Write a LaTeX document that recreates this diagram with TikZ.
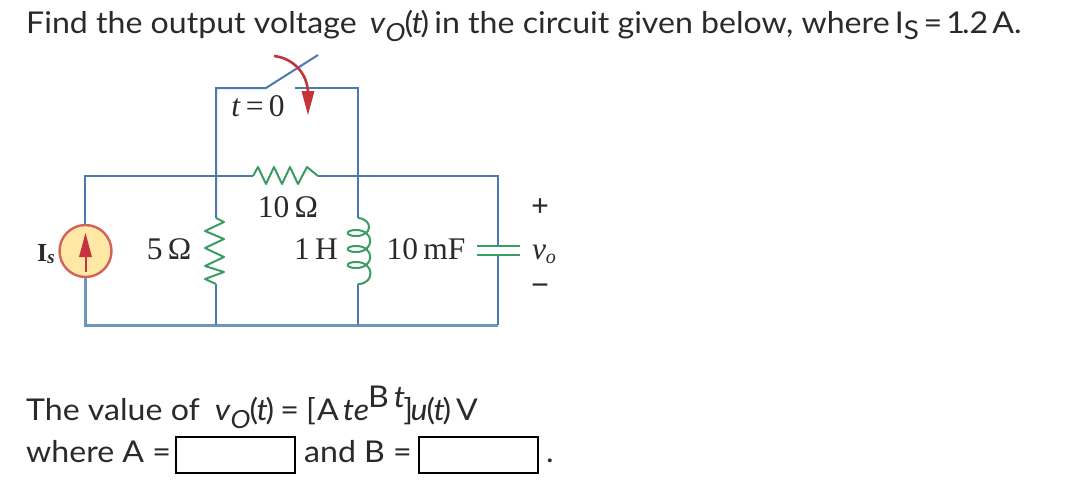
\documentclass[tikz,border=0pt]{standalone}
\usepackage{fontspec}
\setmainfont[FakeStretch=1.07]{Lato}
\newfontfamily\serifx{Liberation Serif}
\usetikzlibrary{arrows.meta}
\definecolor{wirec}{HTML}{4A7BAE}
\definecolor{compc}{HTML}{3A9C62}
\definecolor{redc}{HTML}{C5333C}
\definecolor{srcfill}{HTML}{FFE8A6}
\definecolor{srcline}{HTML}{D2625A}
\definecolor{inkc}{HTML}{2A2A2A}
\newcommand{\subO}{\raisebox{-0.28em}{\fontsize{25}{30}\selectfont\textit{O}}}
\newcommand{\argt}{\kern-1pt(\kern-1.5pt\textit{t}\kern-2.5pt)}
\tikzset{
  wire/.style={draw=wirec,line width=2pt},
  thickwire/.style={draw=wirec!80,line width=3pt},
  comp/.style={draw=compc,line width=2pt,line join=round},
  prose/.style={anchor=base west,inner sep=0pt,text=inkc,font=\fontsize{30}{34}\selectfont},
  lab/.style={anchor=base,inner sep=0pt,text=inkc,font=\serifx\fontsize{31.5}{34}\selectfont},
  answer/.style={draw=black,line width=2pt,fill=white,minimum width=119pt,minimum height=36pt,inner sep=0pt},
  redarrow/.style={fill=redc,draw=none}
}
\begin{document}
\begin{tikzpicture}[x=1pt,y=-1pt]
\useasboundingbox (0,0) rectangle (1066,496);
% corners and junctions
\coordinate (tl) at (85,176);
\coordinate (bl) at (85,325);
\coordinate (jA) at (216,176);
\coordinate (jB) at (358,176);
\coordinate (tr) at (498,176);
\coordinate (br) at (498,325);
\coordinate (jC) at (216,325);
\coordinate (jD) at (358,325);
\coordinate (swL) at (216,88);
\coordinate (swR) at (358,88);
\coordinate (hinge) at (266,88);
\coordinate (bladeEnd) at (318,55);
\coordinate (contact) at (295,88);
\coordinate (rvT) at (216,218);
\coordinate (rvB) at (216,284);
\coordinate (rhL) at (253,176);
\coordinate (rhR) at (318,176);
\coordinate (lT) at (358,218);
\coordinate (lB) at (358,284);
\coordinate (cT) at (498,246);
\coordinate (cB) at (498,255);
% wiring
\draw[thickwire] (jC) -- (bl) -- (tl |- 0,277);
\draw[thickwire] (jC) -- (jD) -- (br);
\draw[wire] (tl |- 0,225) -- (tl) -- (rhL);
\draw[wire] (rhR) -- (tr) -- (cT);
\draw[wire] (cB) -- (br);
\draw[wire] (rvT) -- (swL) -- (hinge) -- (bladeEnd);
\draw[wire] (contact) -- (swR) -- (lT);
\draw[wire] (rvB) -- (jC);
\draw[wire] (lB) -- (jD);
% 5 ohm
\draw[comp] (rvT) -- (224,222) -- (205,231) -- (224,239) -- (205,248) -- (224,257) -- (205,266) -- (224,272) -- (205,279) -- (rvB);
% 10 ohm
\draw[comp] (rhL) -- (258,167) -- (266,184) -- (274,167) -- (282,184) -- (290,167) -- (298,184) -- (307,167) -- (rhR);
% 1 H
\draw[comp] (lT) .. controls (373,219) and (373,236) .. (356,236)
  .. controls (345,236) and (345,230) .. (356,230)
  .. controls (375,230) and (375,252) .. (356,252)
  .. controls (345,252) and (345,246) .. (356,246)
  .. controls (375,246) and (375,268) .. (356,268)
  .. controls (345,268) and (345,262) .. (356,262)
  .. controls (375,262) and (375,284) .. (lB);
% capacitor
\draw[comp] (477,246) -- (520,246);
\draw[comp] (477,255) -- (520,255);
% source
\node[circle,draw=srcline,line width=2.4pt,fill=srcfill,minimum size=52pt,inner sep=0pt] (src) at (85.5,251) {};
\draw[draw=redc,line width=2pt] (85.5,272) -- (85.5,250);
\fill[redarrow] (85.5,233) -- (92,257) -- (79,257) -- cycle;
% switch arrow
\draw[draw=redc,line width=2.6pt] (274,56) .. controls (292,58) and (307,72) .. (308,92);
\fill[redarrow] (308,115) -- (314.5,91) -- (301.5,91) -- cycle;
% component labels
\node[lab] (ltime) at (258,116) {\textit{t}\,=\,0};
\node[lab] (lten) at (288,217) {10\,Ω};
\node[lab] (lfive) at (169,259) {5\,Ω};
\node[lab] (lH) at (316,259) {1\,H};
\node[lab] (lmF) at (426,259) {10\,mF};
\node[lab,anchor=base west] (lIs) at (37,261) {\fontsize{26}{28}\selectfont\textbf{I}\raisebox{-0.1em}{\fontsize{19}{20}\selectfont\textbf{\textit{s}}}};
\node[lab] (lplus) at (540,216) {\textbf{+}};
\node[lab] (lvo) at (544,259) {\textit{v\raisebox{-0.15em}{\fontsize{20}{20}\selectfont o}}};
\node[lab] (lminus) at (540,295) {\textbf{−}};
% prose
\node[prose] (title) at (26,33) {Find the output voltage\kern5pt\ \textit{v}\subO\argt\kern-3pt\ in the circuit given below, where\kern-3pt\ I\raisebox{-0.2em}{\fontsize{26}{30}\selectfont S}\kern-3.5pt\ =\kern-4pt\ 1\kern-3pt.2\kern-4pt\ A.};
\node[prose] (value) at (26,420) {The value of\hspace{15pt}\textit{v}\subO\argt\kern-2pt\ =\kern-1pt\ [\kern1pt A\kern-1pt\,\textit{te}\kern-1pt\raisebox{0.42em}{B\,\textit{t}}\kern-2pt]\kern-2.5pt\textit{u}\argt\kern5pt V};
\node[prose] (where) at (26,462) {where A =};
\node[answer,anchor=west] (boxA) at (175,455) {};
\node[prose] (andB) at (304,462) {and B =};
\node[answer,anchor=west] (boxB) at (418,455) {};
\node[prose] (dot) at (546,462) {.};
\end{tikzpicture}
\end{document}
